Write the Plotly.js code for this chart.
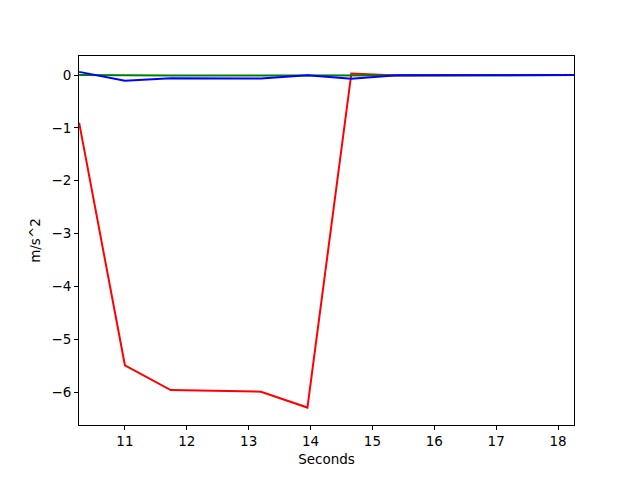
<!DOCTYPE html>
<html>
<head>
<meta charset="utf-8">
<script src="https://cdn.plot.ly/plotly-3.0.1.min.js"></script>
<style>html,body{margin:0;padding:0;background:#fff;}#chart{width:637px;height:477px;}</style>
</head>
<body>
<div id="chart"></div>
<script>
const times = [10.26, 11.0, 11.74, 13.2, 13.95, 14.66, 15.4, 16.1, 16.85, 17.55, 18.26];
const redSeries = [-0.9, -5.49, -5.96, -5.99, -6.29, 0.03, -0.01, 0.0, 0.0, 0.0, 0.0];
const greenSeries = [0.0, -0.01, -0.01, -0.01, -0.01, 0.0, 0.0, 0.0, 0.0, 0.0, 0.0];
const blueSeries = [0.06, -0.11, -0.06, -0.065, -0.005, -0.07, -0.005, -0.002, 0.0, -0.002, 0.0];
const xTitle = "Seconds";
const yTitle = "m/s^2";

const mk = (y, color) => ({x: times, y: y, type: 'scatter', mode: 'lines', line: {color: color, width: 2}, hoverinfo: 'skip'});
const data = [mk(redSeries, '#ff0000'), mk(greenSeries, '#008000'), mk(blueSeries, '#0000ff')];

const axisCommon = {
  showline: true, mirror: true, linecolor: '#000', linewidth: 1,
  ticks: 'outside', ticklen: 4, tickwidth: 1, tickcolor: '#000',
  showgrid: false, zeroline: false,
  tickfont: {family: 'DejaVu Sans', size: 13.5, color: '#000'}
};
const layout = {
  width: 637, height: 477,
  margin: {l: 79, r: 63, t: 56, b: 52},
  paper_bgcolor: '#fff', plot_bgcolor: '#fff',
  showlegend: false,
  xaxis: Object.assign({}, axisCommon, {range: [10.258, 18.258], tick0: 0, dtick: 1,
    title: {text: xTitle, font: {family: 'DejaVu Sans', size: 13.5, color: '#000'}, standoff: 6}}),
  yaxis: Object.assign({}, axisCommon, {range: [-6.62, 0.36], tick0: 0, dtick: 1,
    title: {text: yTitle, font: {family: 'DejaVu Sans', size: 13.5, color: '#000'}, standoff: 7}})
};
Plotly.newPlot('chart', data, layout, {staticPlot: true});
</script>
</body>
</html>
